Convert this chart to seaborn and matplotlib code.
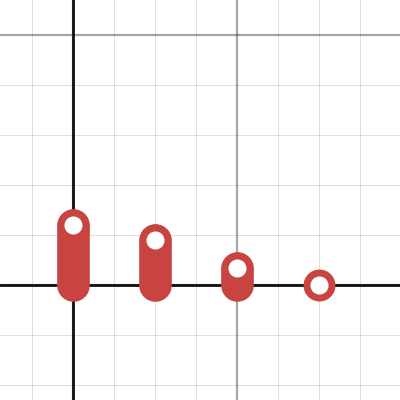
import matplotlib
matplotlib.use('Agg')
import matplotlib.pyplot as plt
import seaborn as sns
import numpy as np

# stem positions and heights (grid units)
xs = [0, 2, 4, 6]
ys = [1.2, 0.9, 0.34, 0.0]

sns.set_style('white')
fig = plt.figure(figsize=(4, 4), dpi=100)
ax = fig.add_axes([0, 0, 1, 1])
ax.set_xlim(-73 / 41, 327 / 41)
ax.set_ylim(-115 / 50, 285 / 50)

# grid
for gx in np.arange(-1, 8):
    ax.axvline(gx, color='#000000', lw=1.6 if gx % 4 == 0 else 0.6,
               alpha=0.35 if gx % 4 == 0 else 0.15, zorder=0)
for gy in np.arange(-2, 6):
    ax.axhline(gy, color='#000000', lw=1.6 if gy % 5 == 0 else 0.6,
               alpha=0.35 if gy % 5 == 0 else 0.15, zorder=0)
ax.axvline(0, color='#111111', lw=2, zorder=1)
ax.axhline(0, color='#111111', lw=2, zorder=1)

red = '#c74440'
for x, y in zip(xs, ys):
    ax.plot([x, x], [0, y], color=red, lw=23.5, solid_capstyle='round', zorder=2)
sns.scatterplot(x=xs, y=ys, color=red, s=23 ** 2, linewidth=0, zorder=3, ax=ax)
sns.scatterplot(x=xs, y=ys, color='white', s=13 ** 2, linewidth=0, zorder=4, ax=ax)

ax.set_xticks([])
ax.set_yticks([])
for s in ax.spines.values():
    s.set_visible(False)
fig.savefig('out.png', dpi=100)
